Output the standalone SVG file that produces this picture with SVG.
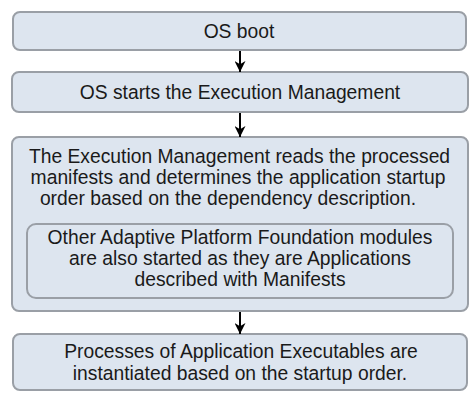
<svg xmlns="http://www.w3.org/2000/svg" width="474" height="404" viewBox="0 0 474 404">
<style>
.box{fill:#dde5ef;stroke:#9a9fa6;stroke-width:2}
.t{font-family:"Liberation Sans",Arial,sans-serif;font-size:19.3px;fill:#1a1a1a;text-anchor:middle}
.c{stroke:#000;stroke-width:2;fill:none}
</style>
<defs>
<marker id="ah" viewBox="0 0 10 10" refX="10" refY="5" markerWidth="11" markerHeight="11" orient="auto" markerUnits="userSpaceOnUse">
<path d="M0,0 L10,5 L0,10 L3,5 Z" fill="#000"/>
</marker>
</defs>
<g id="n1">
<rect class="box" x="13" y="12" width="453" height="38" rx="7"/>
<text class="t" x="239" y="38">OS boot</text>
</g>
<g id="n2">
<rect class="box" x="12" y="72" width="456" height="40" rx="7"/>
<text class="t" x="240" y="99">OS starts the Execution Management</text>
</g>
<g id="n3">
<rect class="box" x="12" y="137" width="456" height="174" rx="7"/>
<text class="t" x="239.5" y="163">The Execution Management reads the processed</text>
<text class="t" x="238" y="184">manifests and determines the application startup</text>
<text class="t" x="228" y="205">order based on the dependency description.</text>
</g>
<g id="n3a">
<rect class="box" x="27" y="224" width="426" height="74" rx="9"/>
<text class="t" x="240" y="244">Other Adaptive Platform Foundation modules</text>
<text class="t" x="240" y="265">are also started as they are Applications</text>
<text class="t" x="240" y="286">described with Manifests</text>
</g>
<g id="n4">
<rect class="box" x="13" y="334" width="454" height="56" rx="7"/>
<text class="t" x="241" y="358">Processes of Application Executables are</text>
<text class="t" x="240" y="380">instantiated based on the startup order.</text>
</g>
<g id="connectors">
<line class="c" x1="240" y1="51" x2="240" y2="72" marker-end="url(#ah)"/>
<line class="c" x1="240" y1="113" x2="240" y2="137" marker-end="url(#ah)"/>
<line class="c" x1="240" y1="312" x2="240" y2="334" marker-end="url(#ah)"/>
</g>
</svg>
